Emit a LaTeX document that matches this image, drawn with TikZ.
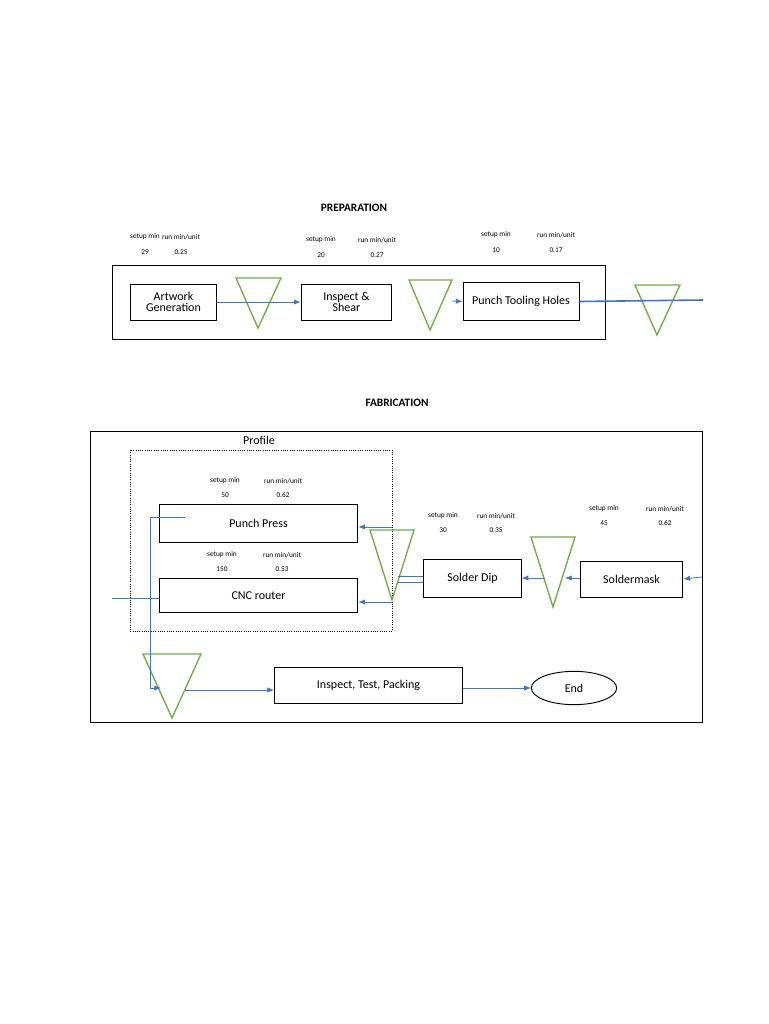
\documentclass[tikz,border=0pt]{standalone}
\usepackage{fontspec}
\setmainfont{Carlito}
\usetikzlibrary{arrows.meta,shapes.geometric}
\definecolor{bl}{HTML}{4472C4}
\definecolor{gr}{HTML}{70AD47}
\begin{document}
\begin{tikzpicture}[x=0.75pt,y=-0.75pt,
  box/.style={draw,line width=0.7pt,inner sep=0pt,align=center,font=\fontsize{9}{10}\selectfont},
  tri/.style={draw=gr,line width=1pt},
  con/.style={draw=bl,line width=0.6pt,-{Latex[length=5pt,width=4pt]}},
  ln/.style={draw=bl,line width=0.6pt},
  lab/.style={font=\fontsize{5.5}{6}\selectfont,inner sep=0pt},
  ttl/.style={font=\bfseries\fontsize{8.5}{10}\selectfont}]
\fill[white] (0,0) rectangle (768,1024);
% PREPARATION
\node[ttl] (tp) at (354,208) {PREPARATION};
\draw[line width=0.7pt] (112,265) rectangle (605,339);
\node[box,minimum width=65pt,minimum height=27pt] (ag) at (173.5,302) {Artwork\\[-2pt]Generation};
\node[box,minimum width=68pt,minimum height=27pt] (is) at (346.5,302) {Inspect \&\\[-2pt]Shear};
\node[box,minimum width=87pt,minimum height=28pt] (pt) at (521,301.5) {Punch Tooling Holes};
\draw[tri] (236,278) -- (281,278) -- (258,328) -- cycle;
\draw[tri] (409,280) -- (452,280) -- (430,330) -- cycle;
\draw[tri] (635,285) -- (680,285) -- (657,335) -- cycle;
\coordinate (t2r) at (452,301);
\coordinate (pe) at (703,300);
\draw[con] (ag.east) -- (is.west);
\draw[con] (t2r) -- (pt.west);
\draw[ln,line width=1.2pt] (pt.east) -- (pe);
\foreach \x/\y/\a/\b/\c in {145/237/181/29/0.25, 321/240/377/20/0.27, 496/235/556/10/0.17}{
  \node[lab] at (\x,\y) {setup min};
  \node[lab] at (\a,\y) {run min/unit};
  \node[lab] at (\x,\y+15) {\b};
  \node[lab] at (\a,\y+15) {\c};
}
% FABRICATION
\node[ttl] (tf) at (397,403) {FABRICATION};
\draw[line width=0.7pt] (90,431) rectangle (702,722);
\node[font=\fontsize{9}{10}\selectfont] (pr) at (259,440) {Profile};
\draw[densely dotted,line width=0.7pt] (130,450) rectangle (392,631);
\node[box,minimum width=149pt,minimum height=28pt,text depth=-6pt] (pp) at (258.5,523.5) {Punch Press};
\node[box,minimum width=149pt,minimum height=25pt,text depth=-4pt] (cnc) at (258.5,595.5) {CNC router};
\node[box,minimum width=73pt,minimum height=28pt] (sd) at (472.5,578.5) {Solder Dip};
\node[box,minimum width=77pt,minimum height=27pt] (sm) at (631.5,579) {Soldermask};
\node[box,minimum width=141pt,minimum height=27pt] (itp) at (368.5,685) {Inspect, Test, Packing};
\node[draw,ellipse,line width=0.7pt,minimum width=64pt,minimum height=25pt,font=\fontsize{9}{10}\selectfont] (end) at (574,688) {End};
\draw[tri] (370,530) -- (414,530) -- (392,600) -- cycle;
\draw[tri] (531,537) -- (575,537) -- (553,607) -- cycle;
\draw[tri] (143,654) -- (201,654) -- (172,718) -- cycle;
\foreach \x/\y/\a/\b/\c in {225/481/283/50/0.62, 222/555/282/150/0.53, 443/516/496/30/0.35, 604/509/665/45/0.62}{
  \node[lab] at (\x,\y) {setup min};
  \node[lab] at (\a,\y) {run min/unit};
  \node[lab] at (\x,\y+14) {\b};
  \node[lab] at (\a,\y+14) {\c};
}
\coordinate (in) at (702,577);
\coordinate (t5) at (565,578);
\coordinate (t4a) at (398,576);
\coordinate (t4b) at (398,582);
\coordinate (p1) at (392,527);
\coordinate (p2) at (392,602);
\coordinate (l1) at (185,517);
\coordinate (l2) at (150,517);
\coordinate (l3) at (150,688);
\coordinate (l4) at (161,688);
\coordinate (cl) at (112,598);
\coordinate (t6) at (185,690);
\draw[con] (in) -- (sm.east);
\draw[con] (sm.west |- t5) -- (t5);
\draw[con] (t5 -| 545,0) -- (sd.east |- t5);
\draw[ln] (sd.west |- t4a) -- (t4a);
\draw[ln] (sd.west |- t4b) -- (t4b);
\draw[con] (p1) -- (pp.east |- p1);
\draw[con] (p2) -- (cnc.east |- p2);
\draw[ln] (l1) -- (l2) -- (l3);
\draw[con] (l3) -- (l4);
\draw[ln] (cl) -- (cnc.west |- cl);
\draw[con] (t6) -- (itp.west |- t6);
\draw[con] (itp.east |- end) -- (end.west);
\end{tikzpicture}
\end{document}
